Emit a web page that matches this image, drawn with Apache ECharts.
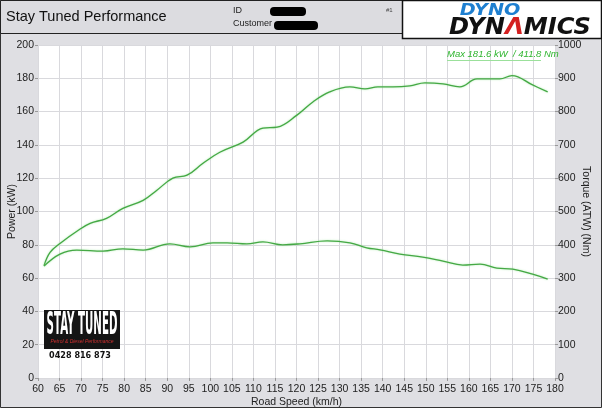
<!DOCTYPE html>
<html><head><meta charset="utf-8">
<script src="https://cdn.jsdelivr.net/npm/echarts@6/dist/echarts.min.js"></script>
<style>html,body{margin:0;padding:0;background:#dfdfe3}#c{width:602px;height:408px}</style>
</head><body><div id="c"></div>
<script>
// Road speed (km/h) samples for the power curve
var powerSpeed = [61.4,62.8,65.1,69.7,72.1,75.9,79.7,84.4,87.6,91.3,94.6,98.3,102.2,107.6,112.2,115.5,120.1,123.8,127.7,132.4,135.9,138.9,142.4,146.3,149.8,154,157.9,161.9,167.2,170,174.8,178.3];
// Power (kW)
var powerKW = [67.5,75.5,80.8,89.3,92.9,95.9,101.9,106.7,112.8,120,121.8,129,135.6,141.7,150.1,150.7,157.9,165.8,171.8,174.8,173.6,174.8,174.8,175.4,177.2,176.6,174.8,179.6,179.6,181.6,176,171.8];
// Road speed (km/h) samples for the torque curve
var torqueSpeed = [61.4,65.1,69,75.1,79.7,84.4,90.6,95.3,100.6,103.9,108.5,112.2,116.8,120.8,127.1,132.4,136.3,139.4,144,149.3,154,158.6,162.6,166.5,170.2,174.8,178.3];
// Torque at the wheels (Nm)
var torqueNm = [336,372,384,381,388,384,403,394,406,406,403,409,400,403,411.8,406,391,385,372,363,351,339,342,330,327,312,297];
var xTicks = {min:60, max:180, step:5};
var powerTicks = {min:0, max:200, step:20};
var torqueTicks = {min:0, max:1000, step:100};

var chart = echarts.init(document.getElementById('c'), null, {renderer:'canvas'});
var lineColor = '#45a845';
var font = '"Liberation Sans", Arial, sans-serif';
function pairs(xs, ys){ return xs.map(function(x,i){ return [x, ys[i]]; }); }

chart.setOption({
  backgroundColor: '#dfdfe3',
  animation: false,
  grid: {left: 38, right: 47, top: 45, bottom: 30, containLabel: false, outerBoundsMode: 'none', show: true, backgroundColor: '#ffffff', borderWidth: 0},
  xAxis: {
    type: 'value', min: xTicks.min, max: xTicks.max, interval: xTicks.step,
    name: 'Road Speed (km/h)', nameLocation: 'middle', nameGap: 19, nameMoveOverlap: false,
    nameTextStyle: {fontFamily: font, fontSize: 10.5, color: '#222'},
    axisLine: {show: false},
    axisTick: {show: true, length: 3, lineStyle: {color: '#999'}},
    axisLabel: {fontFamily: font, fontSize: 10.5, color: '#222', margin: 6},
    splitLine: {show: true, lineStyle: {color: '#d9d9dd', width: 1}}
  },
  yAxis: [{
    type: 'value', min: powerTicks.min, max: powerTicks.max, interval: powerTicks.step,
    name: 'Power (kW)', nameLocation: 'middle', nameGap: 20, nameRotate: 90, nameMoveOverlap: false,
    nameTextStyle: {fontFamily: font, fontSize: 10.5, color: '#222'},
    axisLine: {show: false},
    axisTick: {show: true, length: 3, lineStyle: {color: '#999'}},
    axisLabel: {fontFamily: font, fontSize: 10.5, color: '#222', margin: 4},
    splitLine: {show: true, lineStyle: {color: '#d9d9dd', width: 1}}
  }, {
    type: 'value', position: 'right', min: torqueTicks.min, max: torqueTicks.max, interval: torqueTicks.step,
    name: 'Torque (ATW) (Nm)', nameLocation: 'middle', nameGap: 25, nameRotate: -90, nameMoveOverlap: false,
    nameTextStyle: {fontFamily: font, fontSize: 10.5, color: '#222'},
    axisLine: {show: false},
    axisTick: {show: true, length: 3, lineStyle: {color: '#999'}},
    axisLabel: {fontFamily: font, fontSize: 10.5, color: '#222', margin: 3, formatter: function(v){ return String(v); }},
    splitLine: {show: false}
  }],
  series: [{
    name: 'Power', type: 'line', yAxisIndex: 0, smooth: 0.4, symbol: 'none',
    lineStyle: {color: lineColor, width: 1.3, shadowColor: 'rgba(120,220,120,0.6)', shadowBlur: 2},
    data: pairs(powerSpeed, powerKW)
  }, {
    name: 'Torque', type: 'line', yAxisIndex: 1, smooth: 0.4, symbol: 'none',
    lineStyle: {color: lineColor, width: 1.3, shadowColor: 'rgba(120,220,120,0.6)', shadowBlur: 2},
    data: pairs(torqueSpeed, torqueNm)
  }],
  graphic: [
    // header strip
    {type: 'rect', shape: {x: 0.5, y: 0.5, width: 601, height: 33}, style: {fill: '#dcdce0', stroke: '#222', lineWidth: 1}, z: 10},
    {type: 'text', left: 6, top: 9, style: {text: 'Stay Tuned Performance', font: '14.5px ' + font, fill: '#111'}, z: 11},
    {type: 'text', left: 233, top: 6, style: {text: 'ID', font: '9px ' + font, fill: '#222'}, z: 11},
    {type: 'text', left: 233, top: 19, style: {text: 'Customer', font: '9px ' + font, fill: '#222'}, z: 11},
    {type: 'rect', shape: {x: 270, y: 7, width: 36, height: 9, r: 4}, style: {fill: '#000'}, z: 11},
    {type: 'rect', shape: {x: 274, y: 21, width: 44, height: 9, r: 4}, style: {fill: '#000'}, z: 11},
    {type: 'text', left: 386, top: 7, style: {text: '#1', font: '6px ' + font, fill: '#444'}, z: 11},
    // logo box
    {type: 'rect', shape: {x: 402.5, y: 0.5, width: 199, height: 38}, style: {fill: '#ffffff', stroke: '#111', lineWidth: 1.5}, z: 12},
    {type: 'text', x: 490, y: 11, scaleX: 1.2, style: {text: 'DYNO', font: 'italic 900 16px "DejaVu Sans", sans-serif', fill: '#1e7fd0', align: 'center', verticalAlign: 'middle'}, z: 13},
    {type: 'text', x: 520, y: 28, scaleX: 1.05, style: {
      text: '{a|DYN}{b|Λ}{a|MICS}', align: 'center', verticalAlign: 'middle',
      rich: {a: {font: 'italic 900 23px "DejaVu Sans", sans-serif', fill: '#111'}, b: {font: 'italic 900 23px "DejaVu Sans", sans-serif', fill: '#d42020'}}
    }, z: 13},
    // max annotation
    {type: 'text', left: 447, top: 49, style: {text: 'Max 181.6 kW  / 411.8 Nm', font: 'italic 9.5px ' + font, fill: '#2fb52f'}, z: 11},
    {type: 'rect', shape: {x: 447, y: 60, width: 94, height: 1}, style: {fill: '#9be09b'}, z: 11},
    // stay tuned badge
    {type: 'rect', shape: {x: 44, y: 310, width: 76, height: 39}, style: {fill: '#151515'}, z: 11},
    {type: 'text', x: 82, y: 326, scaleX: 0.32, style: {text: 'STAY TUNED', font: 'bold 32px "DejaVu Sans", sans-serif', fill: '#ffffff', align: 'center', verticalAlign: 'middle'}, z: 12},
    {type: 'text', x: 82, y: 342, style: {text: 'Petrol & Diesel Performance', font: 'italic 5px ' + font, fill: '#d03030', align: 'center', verticalAlign: 'middle'}, z: 12},
    {type: 'text', x: 80, y: 356, scaleX: 0.85, style: {text: '0428 816 873', font: 'bold 9.5px "DejaVu Sans", sans-serif', fill: '#111', align: 'center', verticalAlign: 'middle'}, z: 12},
    // outer frame
    {type: 'rect', shape: {x: 0.5, y: 0.5, width: 601, height: 407}, style: {fill: 'none', stroke: '#333', lineWidth: 1}, z: 9}
  ]
});
</script>
</body></html>
